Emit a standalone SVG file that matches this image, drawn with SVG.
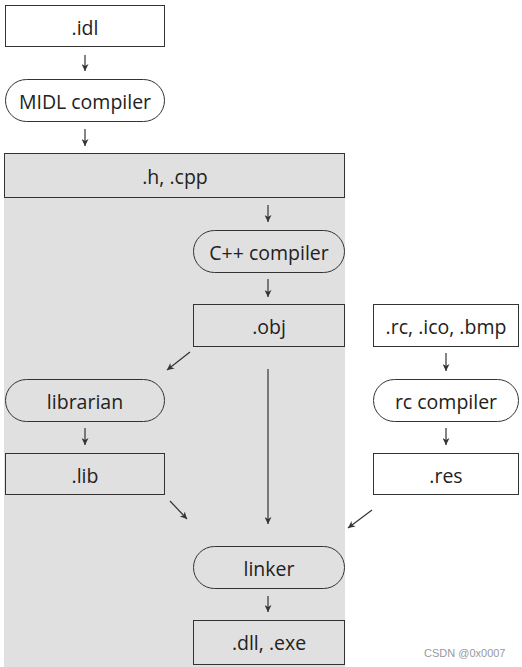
<svg xmlns="http://www.w3.org/2000/svg" width="522" height="667" viewBox="0 0 522 667">
<defs>
<marker id="ah" viewBox="0 0 10 10" refX="10" refY="5" markerWidth="7" markerHeight="7" markerUnits="userSpaceOnUse" orient="auto">
<path d="M0,0 L10,5 L0,10 L3,5 Z" fill="#333"/>
</marker>
</defs>
<style>
.box{fill:#fff;stroke:#333;stroke-width:1}
.gbox{fill:#e0e0e0;stroke:#333;stroke-width:1}
.t{font-family:"Open Sans","Noto Sans",sans-serif;font-size:19.5px;fill:#222;text-anchor:middle;dominant-baseline:central}
.c{stroke:#333;stroke-width:1.2;fill:none;marker-end:url(#ah)}
.wm{font-family:"Liberation Sans",Arial,sans-serif;font-size:11px;fill:#999}
</style>
<rect x="4" y="153" width="341" height="514" fill="#e0e0e0"/>
<g id="idl"><rect class="box" x="5.5" y="5.5" width="159" height="41"/><text class="t" x="85" y="27">.idl</text></g>
<g id="midl"><rect class="box" x="5.5" y="79.5" width="159" height="42" rx="21"/><text class="t" x="85" y="101">MIDL compiler</text></g>
<g id="hcpp"><rect class="gbox" x="4.5" y="153.5" width="340" height="44"/><text class="t" x="175" y="176">.h, .cpp</text></g>
<g id="cpp"><rect class="gbox" x="193.5" y="230.5" width="151" height="42" rx="21"/><text class="t" x="269" y="252">C++ compiler</text></g>
<g id="obj"><rect class="gbox" x="193.5" y="304.5" width="151" height="42"/><text class="t" x="269" y="326">.obj</text></g>
<g id="rc"><rect class="box" x="373.5" y="304.5" width="145" height="42"/><text class="t" x="446" y="326">.rc, .ico, .bmp</text></g>
<g id="librarian"><rect class="gbox" x="5.5" y="379.5" width="159" height="42" rx="21"/><text class="t" x="85" y="401">librarian</text></g>
<g id="rccomp"><rect class="box" x="373.5" y="379.5" width="145" height="42" rx="21"/><text class="t" x="446" y="401">rc compiler</text></g>
<g id="lib"><rect class="gbox" x="5.5" y="453.5" width="159" height="41"/><text class="t" x="85" y="475">.lib</text></g>
<g id="res"><rect class="box" x="373.5" y="453.5" width="145" height="41"/><text class="t" x="446" y="475">.res</text></g>
<g id="linker"><rect class="gbox" x="193.5" y="546.5" width="151" height="42" rx="21"/><text class="t" x="269" y="568">linker</text></g>
<g id="dll"><rect class="gbox" x="193.5" y="620.5" width="151" height="44"/><text class="t" x="269" y="642">.dll, .exe</text></g>
<g id="connectors">
<line class="c" x1="85" y1="55" x2="85" y2="71"/>
<line class="c" x1="85" y1="129" x2="85" y2="146"/>
<line class="c" x1="268" y1="205" x2="268" y2="222"/>
<line class="c" x1="268" y1="279" x2="268" y2="297"/>
<line class="c" x1="190" y1="352" x2="167" y2="370"/>
<line class="c" x1="268" y1="369" x2="268" y2="524"/>
<line class="c" x1="446" y1="353" x2="446" y2="371"/>
<line class="c" x1="446" y1="428" x2="446" y2="445"/>
<line class="c" x1="85" y1="428" x2="85" y2="445"/>
<line class="c" x1="170" y1="501" x2="187" y2="519"/>
<line class="c" x1="372" y1="510" x2="348" y2="528"/>
<line class="c" x1="268" y1="596" x2="268" y2="612"/>
</g>
<text class="wm" x="424" y="657">CSDN @0x0007</text>
</svg>
